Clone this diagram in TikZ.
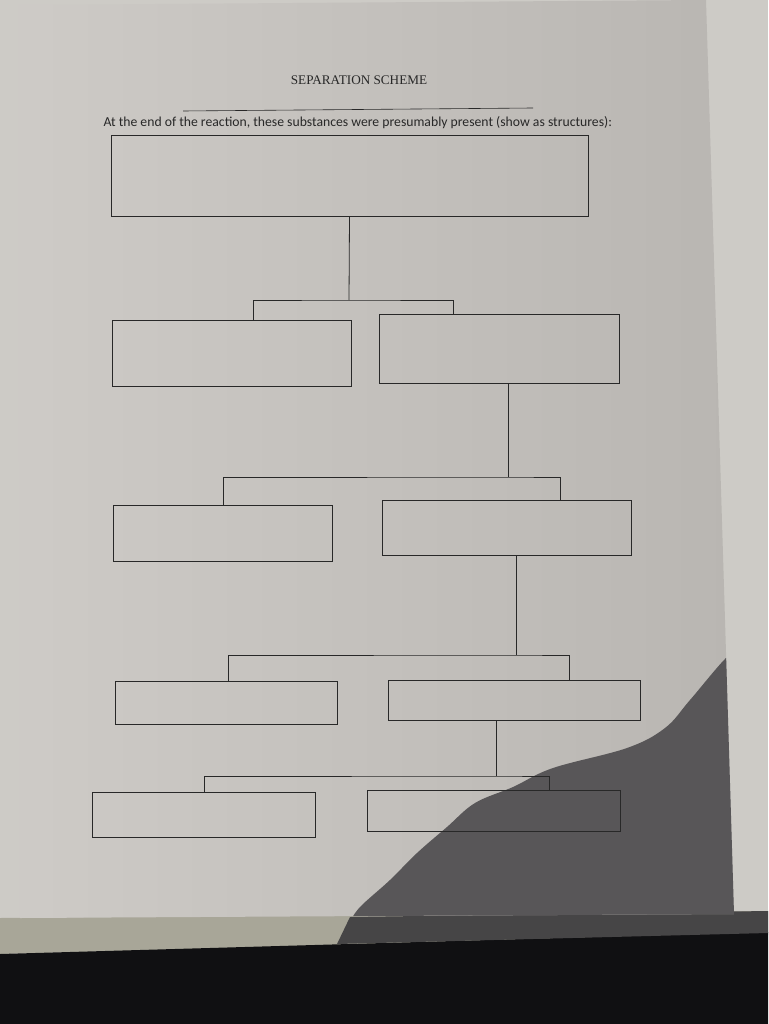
\documentclass[tikz,border=0pt]{standalone}
\usepackage{fontspec}
\setmainfont{Liberation Serif}
\newfontfamily\calib{Carlito}
\definecolor{marble}{RGB}{205,203,198}
\definecolor{band}{RGB}{168,166,152}
\definecolor{paperL}{RGB}{206,203,199}
\definecolor{paperR}{RGB}{184,181,177}
\definecolor{shadowc}{RGB}{88,86,88}
\definecolor{darkbg}{RGB}{16,16,18}
\definecolor{ink}{RGB}{40,40,40}
\begin{document}
\begin{tikzpicture}[x=1pt,y=-1pt]
\tikzset{
  box/.style={draw=ink, line width=0.8pt, inner sep=0pt, fill=none},
  link/.style={draw=ink, line width=0.8pt},
}
\useasboundingbox (0,0) rectangle (768,1024);
% photo background
\fill[marble] (0,0) rectangle (768,1024);
\fill[band] (0,918) -- (768,911) -- (768,935) -- (0,954) -- cycle;
\fill[darkbg] (0,954) -- (768,932) -- (768,1024) -- (0,1024) -- cycle;
\fill[shadowc!80!black] (337,944) -- (350,917) -- (768,911) -- (768,933) -- cycle;
\begin{scope}
  \clip (18,5) -- (706,0) -- (734,914) -- (20,918) -- cycle;
  \shade[left color=paperL, right color=paperR] (0,0) rectangle (768,1024);
  \fill[shadowc] plot[smooth, tension=0.6] coordinates {(350,922) (360,907) (390,880) (417,853) (447,827)
     (475,803) (513,787) (553,768) (627,748) (665,728)
     (690,700) (727,657) (745,648)} -- (745,925) -- cycle;
\end{scope}
% title
\node[text=ink, font=\fontsize{13.2}{15}\selectfont] (title) at (359,80) {SEPARATION SCHEME};
\coordinate (ulA) at (183,111);
\coordinate (ulB) at (533,108);
\draw[ink, line width=0.6pt] (ulA) -- (ulB);
\node[text=ink, font=\calib\fontsize{13.7}{16}\selectfont, anchor=west] (intro) at (100,123)
  {At the end of the reaction, these substances were presumably present (show as structures):};
% boxes
\node[box, minimum width=477pt, minimum height=81pt] (top) at (349.5,175.5) {};
\node[box, minimum width=239pt, minimum height=66pt] (r1a) at (231.5,353.5) {};
\node[box, minimum width=240pt, minimum height=69pt] (r1b) at (499,349) {};
\node[box, minimum width=219pt, minimum height=56pt] (r2a) at (222.5,533) {};
\node[box, minimum width=249pt, minimum height=55pt] (r2b) at (506.5,527.5) {};
\node[box, minimum width=222pt, minimum height=43pt] (r3a) at (226,702.5) {};
\node[box, minimum width=252pt, minimum height=40pt] (r3b) at (514,700) {};
\node[box, minimum width=223pt, minimum height=45pt] (r4a) at (203.5,814.5) {};
\node[box, minimum width=253pt, minimum height=41pt] (r4b) at (493.5,810.5) {};
% connectors
\coordinate (j1) at (349,300);
\draw[link] (top.south) -- (j1);
\draw[link] ([xshift=21.5pt]r1a.north) |- (j1) -| ([xshift=-46pt]r1b.north);
\coordinate (j2) at (508,477);
\draw[link] ([xshift=9pt]r1b.south) -- (j2);
\draw[link] ([xshift=0.5pt]r2a.north) |- (j2) -| ([xshift=53.5pt]r2b.north);
\coordinate (j3) at (516,655);
\draw[link] ([xshift=9.5pt]r2b.south) -- (j3);
\draw[link] ([xshift=2pt]r3a.north) |- (j3) -| ([xshift=55pt]r3b.north);
\coordinate (j4) at (496,776);
\draw[link] ([xshift=-18pt]r3b.south) -- (j4);
\draw[link] ([xshift=0.5pt]r4a.north) |- (j4) -| ([xshift=55.5pt]r4b.north);
\end{tikzpicture}
\end{document}
